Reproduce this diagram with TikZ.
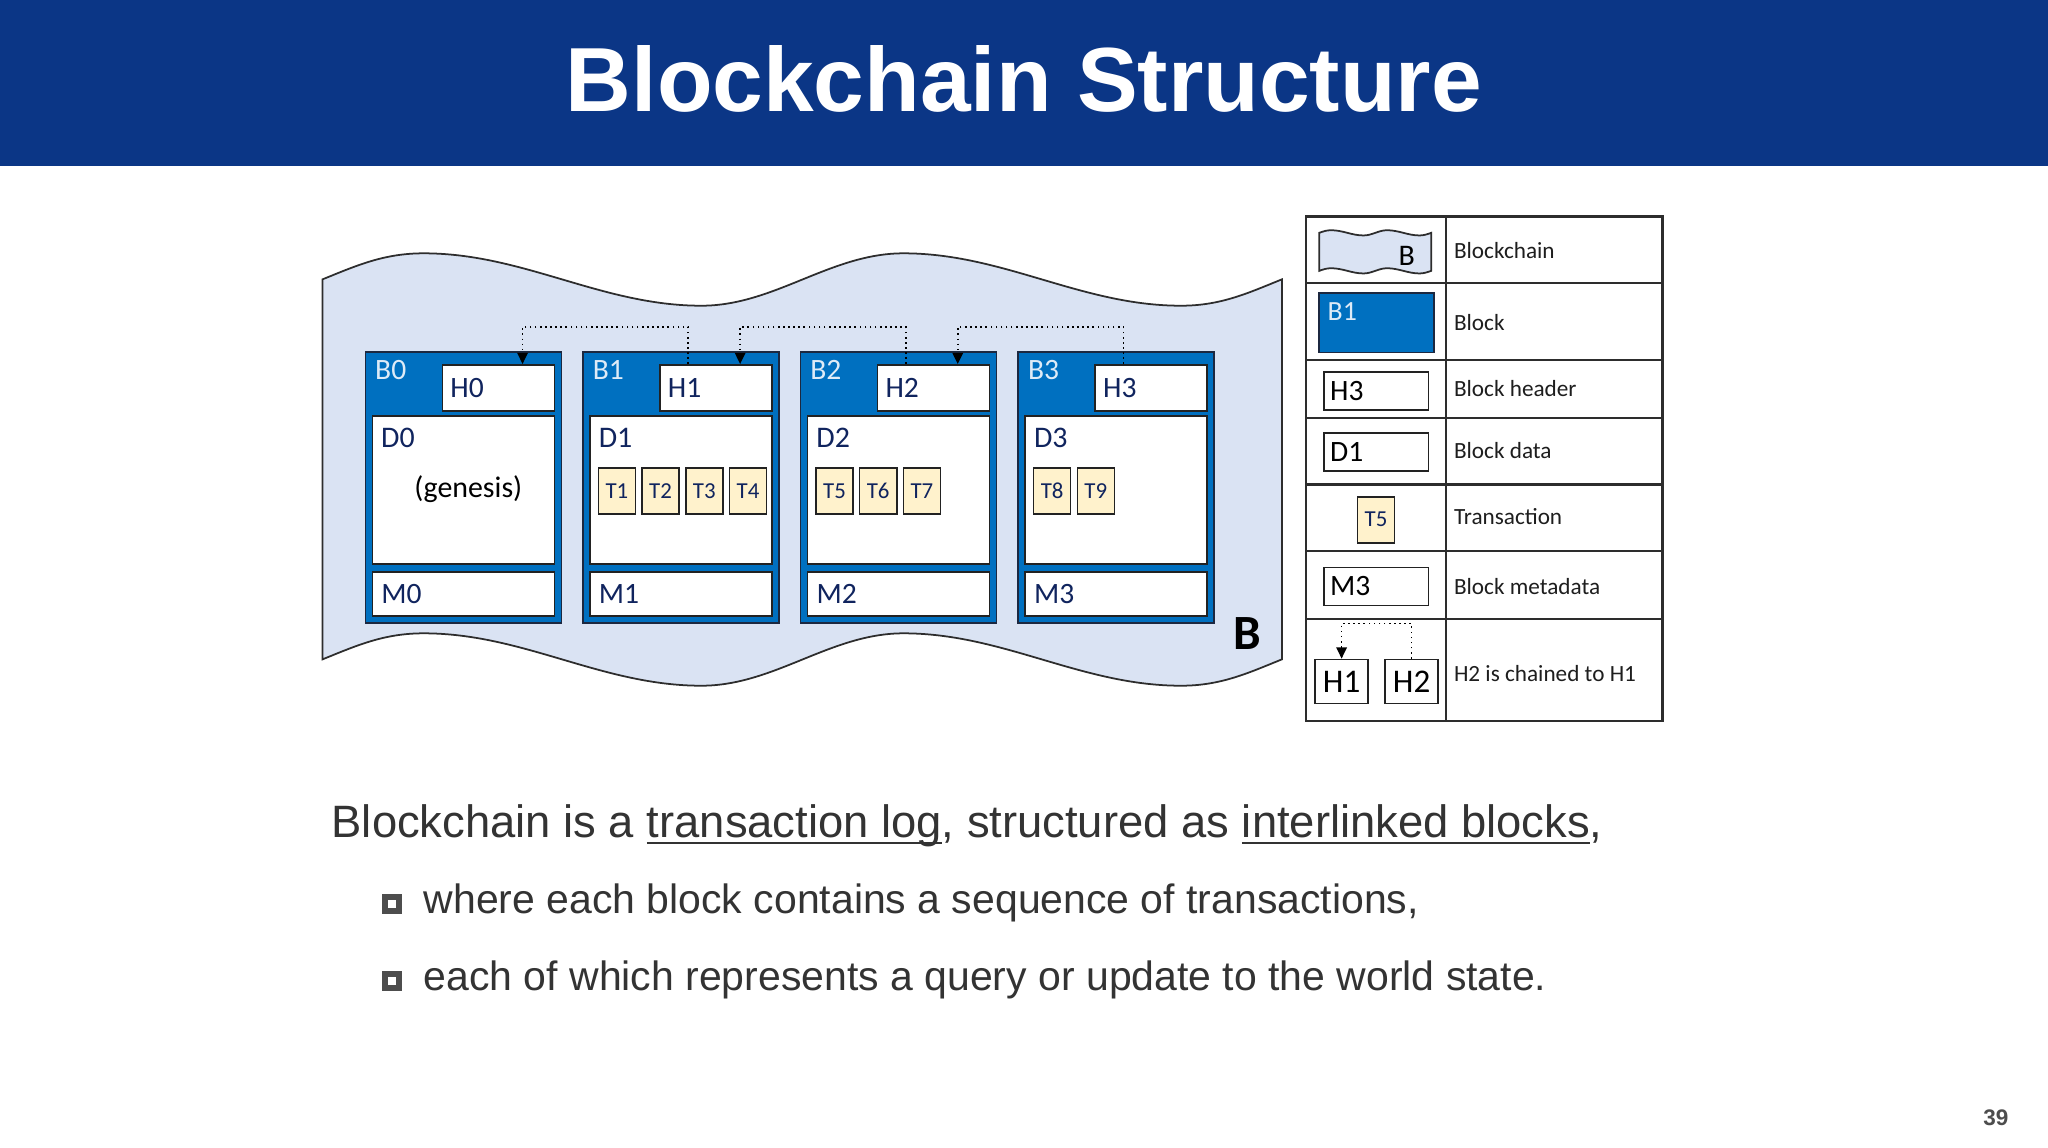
\documentclass[tikz,border=0pt]{standalone}
\usepackage{fontspec}
\setmainfont{Liberation Sans}
\newfontfamily\diagfont{Carlito}
\usetikzlibrary{arrows.meta,calc}
\definecolor{TitleBlue}{RGB}{11,54,134}
\definecolor{BlockBlue}{RGB}{0,112,192}
\definecolor{BlockEdge}{RGB}{28,40,64}
\definecolor{BlockText}{RGB}{222,235,247}
\definecolor{LabelNavy}{RGB}{16,36,94}
\definecolor{BoxEdge}{RGB}{34,34,34}
\definecolor{WaveFill}{RGB}{218,227,243}
\definecolor{WaveEdge}{RGB}{45,45,45}
\definecolor{TxYellow}{RGB}{255,242,204}
\definecolor{BodyGray}{RGB}{51,51,51}
\definecolor{BulletGray}{RGB}{77,77,77}
\definecolor{KeyText}{RGB}{30,30,30}
\newcommand{\ultext}[1]{\setbox0\hbox{#1}\rlap{\rule[-2.05pt]{\wd0}{0.55pt}}\box0}

\begin{document}
\begin{tikzpicture}[x=0.01cm, y=-0.01cm, every node/.style={inner sep=0pt}]
  \tikzset{
    banner/.style={fill=TitleBlue},
    titletext/.style={anchor=base, text=white, font=\bfseries\fontsize{25.9}{30}\selectfont},
    bodytext/.style={anchor=base west, text=BodyGray, font=\fontsize{12.9}{15}\selectfont},
    subtext/.style={bodytext, font=\fontsize{11.65}{14}\selectfont},
    bulletsq/.style={draw=BulletGray, fill=white, line width=1.7pt, minimum size=0.14cm},
    pagenum/.style={anchor=base east, text=BulletGray, font=\bfseries\fontsize{6.4}{8}\selectfont},
    wavefill/.style={fill=WaveFill, draw=WaveEdge, line width=0.5pt},
    blockbox/.style={draw=BlockEdge, fill=BlockBlue, line width=0.45pt, anchor=north west, minimum width=1.96cm, minimum height=2.71cm},
    blocklbl/.style={anchor=base west, text=BlockText, font=\diagfont\fontsize{8.4}{10}\selectfont},
    hdrbox/.style={draw=BoxEdge, fill=white, line width=0.45pt, anchor=north east, minimum height=0.46cm, text width=0.96cm, inner xsep=0.08cm, align=left, text=LabelNavy, font=\diagfont\fontsize{8.4}{10}\selectfont},
    databox/.style={draw=BoxEdge, fill=white, line width=0.45pt, anchor=north, minimum width=1.82cm, minimum height=1.48cm},
    metabox/.style={hdrbox, anchor=north, minimum height=0.44cm, text width=1.64cm, inner xsep=0.09cm},
    innerlbl/.style={anchor=base west, text=LabelNavy, font=\diagfont\fontsize{8.5}{10}\selectfont},
    txbox/.style={draw=BoxEdge, fill=TxYellow, line width=0.45pt, anchor=north west, minimum width=0.37cm, minimum height=0.46cm, text=LabelNavy, font=\diagfont\fontsize{6.5}{8}\selectfont},
    chain/.style={densely dotted, line width=0.45pt, -{Triangle[length=3.2pt,width=3pt]}},
    tablerule/.style={draw=WaveEdge, line width=0.6pt},
    keyblock/.style={blockbox, minimum width=1.15cm, minimum height=0.597cm},
    keybox/.style={hdrbox, anchor=north west, minimum height=0.38cm, text width=0.924cm, inner xsep=0.06cm, text=black},
    keyhdr/.style={draw=BoxEdge, fill=white, line width=0.45pt, anchor=north west, minimum width=0.53cm, minimum height=0.44cm, font=\diagfont\fontsize{9.4}{11}\selectfont},
    keytext/.style={anchor=base west, text=KeyText, font=\diagfont\fontsize{6.6}{8}\selectfont},
    keyglyph/.style={anchor=base west, font=\diagfont\fontsize{8.5}{10}\selectfont},
    bigmark/.style={anchor=base west, font=\diagfont\bfseries\fontsize{14}{16}\selectfont},
    pics/chainwave/.style={code={
      \draw[wavefill] (0,0) .. controls (33.7,-13.6) and (61,-26) .. (101,-26)
        .. controls (201,-26) and (278.8,26.4) .. (378.8,26.4)
        .. controls (451.8,26.4) and (507.8,-26) .. (580.8,-26)
        .. controls (680.8,-26) and (758.4,26.4) .. (858.4,26.4)
        .. controls (898.4,26.4) and (925.7,13.6) .. (959.4,0)
        -- (959.4,380)
        .. controls (925.7,393.6) and (898.4,406.4) .. (858.4,406.4)
        .. controls (758.4,406.4) and (680.8,354) .. (580.8,354)
        .. controls (507.8,354) and (451.8,406.4) .. (378.8,406.4)
        .. controls (278.8,406.4) and (201,354) .. (101,354)
        .. controls (61,354) and (33.7,366.4) .. (0,380) -- cycle;
    }}
  }
  \useasboundingbox (0,0) rectangle (2048,1147);
  \fill[white] (0,0) rectangle (2048,1147);

  % title bar
  \fill[banner] (0,0) rectangle (2048,165.7);
  \node[titletext] (title) at (1024,111.7) {Blockchain Structure};

  % the chain
  \pic (chainshape) at (322.6,279.3) {chainwave};
  \foreach \i in {0,1,2,3} {
    \node[blockbox] (b\i) at ({364.5+217.6*\i},351) {};
    \node[blocklbl] (bl\i) at ($(b\i.north west)+(10,28)$) {B\i};
    \node[hdrbox] (h\i) at ($(b\i.north east)+(-7,13)$) {H\i};
    \node[databox] (d\i) at ($(b\i.north)+(0,64)$) {};
    \node[innerlbl] (dl\i) at ($(d\i.north west)+(9,32)$) {D\i};
    \node[metabox] (m\i) at ($(b\i.north)+(0,220)$) {M\i};
  }
  \node[anchor=base, font=\diagfont\fontsize{8.5}{10}\selectfont] (genesis) at ($(d0.north)+(5,82)$) {(genesis)};
  \foreach \blk/\pos/\tx in {1/0/1,1/1/2,1/2/3,1/3/4,2/0/5,2/1/6,2/2/7,3/0/8,3/1/9}
    \node[txbox] (t\tx) at ($(d\blk.north west)+({8.5+43.7*\pos},52)$) {T\tx};
  \foreach \i/\p in {1/0,2/1,3/2}
    \draw[chain] ($(h\i.north west)+(29,0)$) -- ++(0,-37) -| ($(h\p.north west)+(81,0)$);
  \node[bigmark] (chainmark) at (1233,649.3) {B};

  % legend
  \draw[tablerule] (1306,216.5) rectangle (1662.5,721);
  \draw[tablerule] (1446,216.5) -- (1446,721);
  \foreach \y in {283.4,360.3,418.3,484.5,551,619}
    \draw[tablerule] (1306,\y) -- (1662.5,\y);
  \pic[xscale=0.1167, yscale=0.1] (keywave) at (1319.3,232.8) {chainwave};
  \node[keyglyph] (kwb) at (1398,265.5) {B};
  \node[keyblock] (kb1) at (1318.3,292) {};
  \node[blocklbl, font=\diagfont\fontsize{7.9}{9}\selectfont] (kbl) at (1327,320.7) {B1};
  \node[keybox] (kh3) at (1323.3,371.4) {H3};
  \node[keybox] (kd1) at (1323.3,432) {D1};
  \node[txbox] (kt5) at (1356.7,495.9) {T5};
  \node[keybox] (km3) at (1323.3,566.6) {M3};
  \node[keyhdr] (kh1) at (1314.3,658.6) {H1};
  \node[keyhdr] (kh2) at (1384.3,658.6) {H2};
  \draw[chain] (kh2.north) -- ++(0,-35) -| (kh1.north);
  \node[keytext] (key1) at (1453.3,258.6) {Blockchain};
  \node[keytext] (key2) at (1453.3,330.3) {Block};
  \node[keytext] (key3) at (1453.3,396.6) {Block header};
  \node[keytext] (key4) at (1453.3,458) {Block data};
  \node[keytext] (key5) at (1453.3,524.8) {Transaction};
  \node[keytext] (key6) at (1453.3,594) {Block metadata};
  \node[keytext] (key7) at (1453.3,681) {H2 is chained to H1};

  % text below
  \node[bodytext] (line1) at (331,837) {Blockchain is a \ultext{transaction log}, structured as \ultext{interlinked blocks},};
  \node[bulletsq] (bul1) at (392,903.5) {};
  \node[subtext] (line2) at (423,913) {where each block contains a sequence of transactions,};
  \node[bulletsq] (bul2) at (392,980.5) {};
  \node[subtext] (line3) at (423,990) {each of which represents a query or update to the world state.};
  \node[pagenum] (pnum) at (2009,1125) {39};
\end{tikzpicture}
\end{document}
